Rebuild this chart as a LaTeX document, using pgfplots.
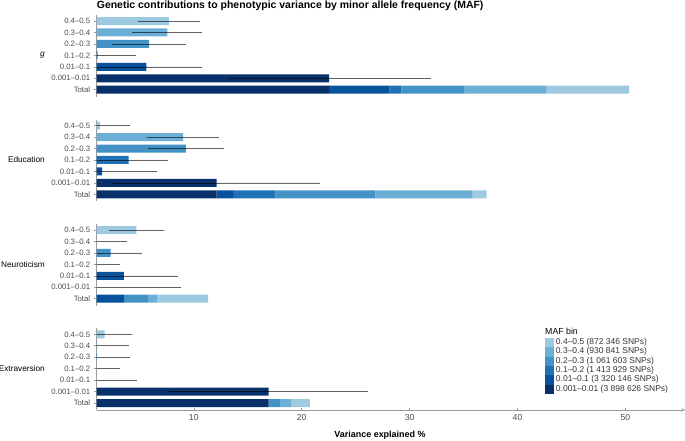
\documentclass[border=0pt]{standalone}
\usepackage{fontspec}
\setmainfont{Liberation Sans}
\usepackage{pgfplots}
\usepackage{pgfplotstable}
\pgfplotsset{compat=1.18}

\definecolor{c1}{HTML}{08306B}
\definecolor{c2}{HTML}{08519C}
\definecolor{c3}{HTML}{2171B5}
\definecolor{c4}{HTML}{4292C6}
\definecolor{c5}{HTML}{6BAED6}
\definecolor{c6}{HTML}{9ECAE1}
\definecolor{tickgray}{HTML}{4D4D4D}
\definecolor{axgray}{HTML}{9A9A9A}
\definecolor{legtext}{HTML}{333333}

% columns: a=0.001-0.01, b=0.01-0.1, c=0.1-0.2, d=0.2-0.3, e=0.3-0.4, f=0.4-0.5 ; e* = standard errors
\pgfplotstableread{
y a b c d e f ea eb ec ed ee ef
6 0 0 0 0 0 7.70 0 0 0 0 0 2.89
5 0 0 0 0 7.55 0 0 0 0 0 3.25 0
4 0 0 0 5.86 0 0 0 0 0 3.43 0 0
3 0 0 1.09 0 0 0 0 0 3.54 0 0 0
2 0 5.60 0 0 0 0 0 5.20 0 0 0 0
1 22.55 0 0 0 0 0 9.45 0 0 0 0 0
0 22.55 5.60 1.09 5.86 7.55 7.70 0 0 0 0 0 0
}\gtab
\pgfplotstableread{
y a b c d e f ea eb ec ed ee ef
6 0 0 0 0 0 1.30 0 0 0 0 0 2.75
5 0 0 0 0 9.00 0 0 0 0 0 3.35 0
4 0 0 0 9.27 0 0 0 0 0 3.55 0 0
3 0 0 3.95 0 0 0 0 0 3.62 0 0 0
2 0 1.50 0 0 0 0 0 5.08 0 0 0 0
1 12.11 0 0 0 0 0 9.58 0 0 0 0 0
0 12.11 1.50 3.95 9.27 9.00 1.30 0 0 0 0 0 0
}\edtab
\pgfplotstableread{
y a b c d e f ea eb ec ed ee ef
6 0 0 0 0 0 4.68 0 0 0 0 0 2.53
5 0 0 0 0 0.83 0 0 0 0 0 2.94 0
4 0 0 0 2.30 0 0 0 0 0 2.92 0 0
3 0 0 0 0 0 0 0 0 3.18 0 0 0
2 0 3.52 0 0 0 0 0 4.98 0 0 0 0
1 0 0 0 0 0 0 8.78 0 0 0 0 0
0 0 3.52 0 2.30 0.83 4.68 0 0 0 0 0 0
}\netab
\pgfplotstableread{
y a b c d e f ea eb ec ed ee ef
6 0 0 0 0 0 1.73 0 0 0 0 0 2.53
5 0 0 0 0 1.05 0 0 0 0 0 2.91 0
4 0 0 0 1.05 0 0 0 0 0 3.05 0 0
3 0 0 0 0 0 0 0 0 3.15 0 0 0
2 0 0 0 0 0 0 0 4.70 0 0 0 0
1 16.93 0 0 0 0 0 9.22 0 0 0 0 0
0 16.93 0 0 1.05 1.05 1.73 0 0 0 0 0 0
}\extab

\pgfplotsset{
  panel/.style={
    scale only axis, width=588.3bp, height=81.5bp,
    anchor=south west,
    xmin=1, xmax=55.52, ymin=-0.6, ymax=6.52,
    xbar stacked, bar width=8bp,
    axis y line=left,
    axis line style={-, draw=axgray, line width=0.6bp},
    ytick={0,1,2,3,4,5,6},
    yticklabels={Total,0.001–0.01,0.01–0.1,0.1–0.2,0.2–0.3,0.3–0.4,0.4–0.5},
    yticklabel style={font=\fontsize{7.8}{9}\selectfont, text=tickgray},
    tick align=outside, major tick length=3bp,
    tick style={draw=axgray, line width=0.6bp},
    clip mode=individual,
    error bars/x dir=both, error bars/x explicit,
    error bars/error mark=none,
    error bars/error bar style={draw=black, opacity=0.6, line width=0.65bp},
  },
  toppanel/.style={panel, axis x line=none, xtick=\empty},
}

\newcommand{\panelplots}[1]{%
  \addplot[fill=c1, draw=none] table[x=a, y=y, x error=ea] {#1};
  \addplot[fill=c2, draw=none] table[x=b, y=y, x error=eb] {#1};
  \addplot[fill=c3, draw=none] table[x=c, y=y, x error=ec] {#1};
  \addplot[fill=c4, draw=none] table[x=d, y=y, x error=ed] {#1};
  \addplot[fill=c5, draw=none] table[x=e, y=y, x error=ee] {#1};
  \addplot[fill=c6, draw=none] table[x=f, y=y, x error=ef] {#1};
}

\begin{document}
\begin{tikzpicture}[x=1bp,y=1bp]

\begin{axis}[toppanel, at={(96.7bp,344.4bp)}]
\panelplots{\gtab}
\end{axis}

\begin{axis}[toppanel, at={(96.7bp,239.8bp)}]
\panelplots{\edtab}
\end{axis}

\begin{axis}[toppanel, at={(96.7bp,135.4bp)}]
\panelplots{\netab}
\end{axis}

\begin{axis}[panel, at={(96.7bp,31.1bp)},
  axis x line=bottom,
  xtick={10,20,30,40,50},
  xticklabel style={font=\fontsize{8.7}{10}\selectfont, text=tickgray},
  /pgf/number format/assume math mode=true,
  reverse legend,
  legend image code/.code={\fill[#1] (0bp,-4.65bp) rectangle (9bp,4.65bp);},
  legend cell align=left,
  legend style={at={(0.762,0.882)}, anchor=north west, draw=none, fill=none,
    inner sep=0pt, outer sep=0pt, row sep=0pt, column sep=2bp,
    nodes={inner sep=0pt, font=\fontsize{8.5}{9}\selectfont, text=legtext,
      text height=6.6bp, text depth=2.7bp}},
]
\addplot[fill=c1, draw=none] table[x=a, y=y, x error=ea] {\extab};
\addlegendentry{0.001–0.01 (3 898 626 SNPs)}
\addplot[fill=c2, draw=none] table[x=b, y=y, x error=eb] {\extab};
\addlegendentry{0.01–0.1 (3 320 146 SNPs)}
\addplot[fill=c3, draw=none] table[x=c, y=y, x error=ec] {\extab};
\addlegendentry{0.1–0.2 (1 413 929 SNPs)}
\addplot[fill=c4, draw=none] table[x=d, y=y, x error=ed] {\extab};
\addlegendentry{0.2–0.3 (1 061 603 SNPs)}
\addplot[fill=c5, draw=none] table[x=e, y=y, x error=ee] {\extab};
\addlegendentry{0.3–0.4 (930 841 SNPs)}
\addplot[fill=c6, draw=none] table[x=f, y=y, x error=ef] {\extab};
\addlegendentry{0.4–0.5 (872 346 SNPs)}
\end{axis}

% titles and group labels
\node[anchor=base west, font=\bfseries\fontsize{10.5}{12}\selectfont, inner sep=0pt] at (96.7bp,432.5bp)
  {Genetic contributions to phenotypic variance by minor allele frequency (MAF)};
\node[anchor=east, inner sep=0pt, font=\fontsize{8.3}{10}\selectfont] at (45bp,385.6bp) {\textit{g}};
\node[anchor=east, inner sep=0pt, font=\fontsize{8.3}{10}\selectfont] at (45bp,281.0bp) {Education};
\node[anchor=east, inner sep=0pt, font=\fontsize{8.3}{10}\selectfont] at (45bp,176.6bp) {Neuroticism};
\node[anchor=east, inner sep=0pt, font=\fontsize{8.3}{10}\selectfont] at (45bp,72.3bp) {Extraversion};
\node[anchor=center, inner sep=0pt, font=\bfseries\fontsize{9}{11}\selectfont] at (380bp,6bp) {Variance explained \%};
\node[anchor=west, inner sep=0pt, font=\fontsize{8.8}{10}\selectfont] at (545bp,109.3bp) {MAF bin};

\pgfresetboundingbox
\path[use as bounding box] (0,0) rectangle (685bp,441bp);
\end{tikzpicture}
\end{document}
